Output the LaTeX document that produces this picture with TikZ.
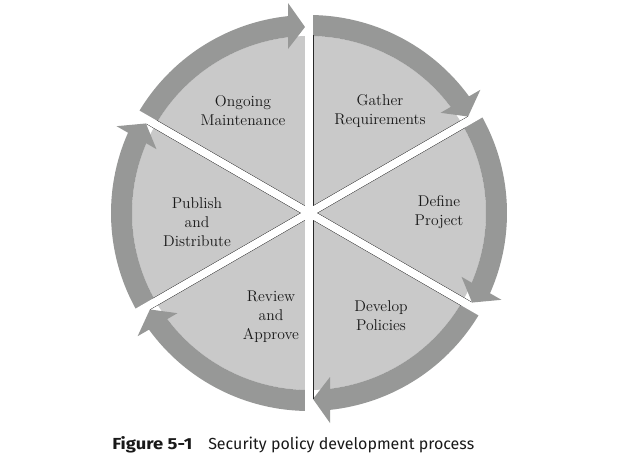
\documentclass[tikz,border=0pt]{standalone}
\usepackage{fontspec}
\newfontfamily\capfont{Fira Sans}
\usetikzlibrary{calc}
\definecolor{piegray}{RGB}{201,201,201}
\definecolor{bandgray}{RGB}{151,152,151}
\definecolor{edgegray}{RGB}{40,40,40}
\definecolor{txt}{RGB}{25,25,25}
\tikzset{
  lbl/.style={align=center, text=txt, font=\fontsize{11.7}{14.25}\selectfont, inner sep=0pt},
  caplbl/.style={anchor=base west, text=txt, inner sep=0pt, font=\capfont\fontsize{12}{14}\selectfont},
  gapline/.style={white, line width=5.8pt},
  edgeline/.style={edgegray, line width=0.5pt}
}
\begin{document}
\begin{tikzpicture}[x=0.75pt,y=0.75pt]
\useasboundingbox (0,0) rectangle (640,462);
\fill[white] (0,0) rectangle (640,462);
\begin{scope}[shift={(309,249)}]
  \fill[piegray] (0,0) circle (177);
  \foreach \p in {90,30,-30,-90,-150,150} {
    \fill[bandgray] (\p+6:177) arc[start angle=\p+6, end angle=\p+60, radius=177]
       -- (\p+60:198) arc[start angle=\p+60, end angle=\p+6, radius=198] -- cycle;
    \fill[bandgray] ($(\p:164)+(\p+90:21)$) -- ($(\p:186)+(\p+90:4)$)
       -- ($(\p:210)+(\p+90:21)$) -- cycle;
  }
  \foreach \p in {90,30,-30,-90,-150,150} {
    \draw[edgeline] ($(\p+90:4)$) -- ($(\p:186)+(\p+90:4)$);
    \draw[edgeline] ($(\p-90:4)$) -- ($(\p:178)+(\p-90:4)$);
  }
  \foreach \p in {90,30,-30,-90,-150,150} {
    \draw[gapline] (0,0) -- (\p:201);
  }
\end{scope}
\node[lbl] (om) at (243,351) {Ongoing\\Maintenance};
\node[lbl] (gr) at (380,351) {Gather\\Requirements};
\node[lbl] (dp) at (439,250) {Define\\Project};
\node[lbl] (dv) at (381,146) {Develop\\Policies};
\node[lbl] (ra) at (271,145) {Review\\and\\Approve};
\node[lbl] (pd) at (197,240) {Publish\\and\\Distribute};
\node[caplbl] (fig) at (112,13) {\scalebox{1.15}[1]{\bfseries Figure 5-1}};
\node[caplbl] (cap) at (208,13) {Security policy development process};
\end{tikzpicture}
\end{document}
